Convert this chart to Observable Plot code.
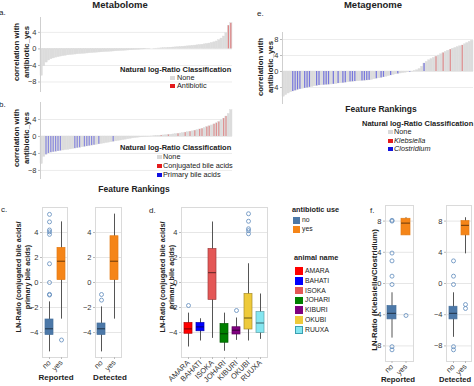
<!DOCTYPE html>
<html><head><meta charset="utf-8">
<script src="https://cdn.jsdelivr.net/npm/d3@7"></script>
<script src="https://cdn.jsdelivr.net/npm/@observablehq/plot@0.6"></script>
<style>
html,body{margin:0;padding:0;background:#fff;}
#fig{position:relative;width:474px;height:386px;overflow:hidden;font-family:"Liberation Sans",Arial,sans-serif;color:#222;}
#fig svg{position:absolute;overflow:visible;}
.t{position:absolute;white-space:pre;line-height:1;}
</style></head><body><div id="fig"></div>
<script>
// ---------- data: panel a (Metabolome, antibiotic) ----------
const barsA = [-6.5,-4.2,-3.3,-2.8,-2.5,-2.3,-2.1,-2.0,-1.85,-1.75,-1.65,-1.55,-1.48,-1.42,-1.36,-1.3,-1.25,
 -1.2,-1.15,-1.1,-1.05,-1.0,-0.95,-0.9,-0.86,-0.82,-0.78,-0.74,-0.7,-0.66,-0.62,-0.58,-0.54,-0.5,-0.46,
 -0.42,-0.38,-0.34,-0.3,-0.26,-0.22,-0.18,-0.14,-0.1,-0.06,-0.03,0,0.03,0.06,0.1,0.14,
 0.18,0.22,0.26,0.3,0.34,0.38,0.42,0.47,0.52,0.57,0.62,0.68,0.74,0.8,0.87,0.94,1.02,1.1,1.2,1.3,
 1.45,1.6,1.8,2.1,2.5,3.0,3.8,5.6,6.2];
const redA = [78,79];
// ---------- panel b (Metabolome, bile acids) ----------
const barsB = [-6.5,-4.8,-4.3,-4.0,-3.8,-3.7,-3.6,-3.5,-3.4,-3.3,-3.2,-3.15,-3.05,-2.95,-2.85,-2.75,-2.65,-2.55,-2.45,-2.35,
 -2.25,-2.15,-2.05,-1.95,-1.85,-1.75,-1.65,-1.55,-1.45,-1.35,-1.25,-1.15,-1.05,-0.95,-0.85,-0.75,-0.65,-0.55,-0.45,-0.38,
 -0.3,-0.24,-0.18,-0.12,-0.07,-0.03,0.02,0.06,0.1,0.15,0.2,0.25,0.3,0.36,0.42,0.48,0.55,0.62,0.7,0.8,
 0.9,1.0,1.1,1.2,1.35,1.5,1.65,1.8,2.0,2.2,2.4,2.6,2.85,3.1,3.4,3.8,4.2,4.7,5.3,6.2];
const blueB = [2,3,4,5,6,7,8,14,15,16,18,19,20,21,22,24,30];
const redB = [50,53,57,60,62,64,66,67,69,70,72,73,74,76,77];
// ---------- panel e (Metagenome) ----------
const barsE = [-6.3,-5.9,-5.5,-5.2,-5.0,-4.8,-4.6,-4.45,-4.3,-4.2,-4.1,-3.95,-3.85,-3.7,-3.6,-3.5,-3.45,-3.4,-3.35,-3.3,
 -3.25,-3.2,-3.1,-3.0,-2.95,-2.9,-2.8,-2.7,-2.6,-2.55,-2.5,-2.45,-2.4,-2.35,-2.3,-2.25,-2.2,-2.1,-1.95,-1.8,
 -1.7,-1.6,-1.45,-1.3,-1.15,-1.0,-0.85,-0.7,-0.6,-0.5,-0.4,-0.3,-0.2,-0.15,-0.05,0.1,0.3,0.6,1.2,2.0,
 2.4,2.8,3.1,3.4,3.7,4.0,4.3,4.6,4.9,5.2,5.45,5.7,5.9,6.1,6.3,6.5,6.8,7.1,7.4,7.7];
const blueE = [4,5,6,7,9,10,11,14,15,17,18,19,21,23,25,26,28,29,30,33,34,35,36,39,41,42,45,48,53,59];
const redE = [64,67,70,75];
// ---------- panel c ----------
const abxGroups = ["no","yes"];
const abxColors = ["#4c78a8","#f58518"];
// five-number summaries: [lower whisker, q1, median, q3, upper whisker]
const cReportedBox = [[-5.55,-4.2,-3.7,-2.96,-1.55],[-2.93,0.19,1.7,2.77,4.85]];
const cReportedOut = [[5.45,4.85,4.2,4.05,3.85,1.5,0,-0.95,-1.0],[-4.6]];
const cDetectedBox = [[-5.55,-4.2,-3.7,-3.28,-1.95],[-2.93,0.19,1.7,3.7,5.47]];
const cDetectedOut = [[-0.96,-1.41],[]];
// ---------- panel d ----------
const animals = ["AMARA","BAHATI","ISOKA","JOHARI","KIBURI","OKUBI","RUUXA"];
const animalColors = ["#ff0000","#0000ff","#e45756","#008000","#800080","#eeca3b","#84e6f0"];
const dBox = [[-5.16,-4.1,-3.71,-3.24,-2.45],[-4.68,-3.9,-3.55,-3.24,-2.9],[-4.47,-1.39,0.79,2.68,4.84],
 [-5.5,-4.82,-4.1,-3.32,-2.45],[-4.63,-4.16,-3.82,-3.58,-2.84],[-4.68,-3.76,-2.84,-0.92,1.5],[-4.55,-4.03,-3.24,-2.37,-0.92]];
const dOut = [[-1.84],[],[],[],[-2.24],[5.5,4.9,4.3,4.15,3.9],[]];
// ---------- panel f ----------
const fReportedBox = [[-7.0,-4.6,-3.83,-2.89,-1.19],[6.17,6.17,7.74,8.3,8.43]];
const fReportedOut = [[8.0,8.1,3.9,2.9,0.94,-0.13,-8.1,-8.5],[-4.1]];
const fDetectedBox = [[-6.9,-4.6,-3.83,-2.98,-1.19],[3.8,6.17,7.45,8.0,8.43]];
const fDetectedOut = [[2.9,0.94,-0.13,-8.1,-8.5],[-2.7,-3.2]];
const classColors = {None:"#d9d9d9", Antibiotic:"#e31a1c", Conj:"#e31a1c", Prim:"#1010e0"};

const fig = document.getElementById("fig");
const FONT = '"Liberation Sans", Arial, sans-serif';

function place(svg, x, y){ svg.style.left = x+"px"; svg.style.top = y+"px"; fig.appendChild(svg); }
function txt(s, x, y, o={}){
  const d = document.createElement("div");
  d.className = "t";
  d.textContent = s;
  d.style.left = x+"px"; d.style.top = y+"px";
  d.style.fontSize = (o.size||7)+"px";
  if (o.bold) d.style.fontWeight = "bold";
  if (o.italic) d.style.fontStyle = "italic";
  if (o.lh) d.style.lineHeight = o.lh+"px";
  d.style.textAlign = "center";
  let tr = o.anchor==="middle" ? "translate(-50%,-50%)" : "translate(0,-50%)";
  if (o.rot) tr = "translate(-50%,-50%) rotate(-90deg)";
  d.style.transform = tr;
  d.style.color = o.color || "#222";
  fig.appendChild(d);
}
function sq(x, y, s, color, border){
  const d = document.createElement("div");
  d.style.position="absolute"; d.style.left=x+"px"; d.style.top=(y-s/2)+"px";
  d.style.width=s+"px"; d.style.height=s+"px"; d.style.background=color; d.style.boxSizing="border-box";
  if (border) d.style.border="1px solid "+border;
  fig.appendChild(d);
}

function barPanel(vals, colored, o){
  const rows = vals.map((v,i)=>({i,v}));
  const cm = colored.map(([ids,color,op]) => Plot.barY(rows.filter(r=>ids.includes(r.i)),
    {x:"i", y:"v", fill:color, fillOpacity:op, insetLeft:0.6, insetRight:0.6}));
  return Plot.plot({
    width:o.w, height:o.h, marginLeft:o.ml, marginRight:o.mr, marginTop:o.mt, marginBottom:o.mb,
    x:{type:"band", domain:d3.range(vals.length), padding:0, axis:null},
    y:{domain:o.ydom},
    style:{fontFamily:FONT, fontSize:"7.5px", background:"transparent", color:"#333"},
    marks:[
      Plot.gridY(o.ticks, {stroke:"#ececec", strokeOpacity:1}),
      Plot.barY(rows, {x:"i", y:"v", fill:"#dcdcdc", stroke:"#dcdcdc", strokeWidth:0.4}),
      ...cm,
      Plot.frame({anchor:"left", stroke:"#cfcfcf"}),
      Plot.axisY(o.ticks, {tickSize:2, tickPadding:2, stroke:"#bbb", label:null, fill:"#333"})
    ]
  });
}

function boxPanel(groups, box, outs, colors, o){
  const rows = groups.map((g,k)=>({g, lo:box[k][0], q1:box[k][1], med:box[k][2], q3:box[k][3], hi:box[k][4],
    c:colors[k], s:d3.color(colors[k]).darker(o.sd).formatHex(), m:d3.color(colors[k]).darker(1.8).formatHex()}));
  const pts = groups.flatMap((g,k)=>outs[k].map(v=>({g,v})));
  return Plot.plot({
    width:o.w, height:o.h, marginLeft:o.ml, marginRight:o.mr, marginTop:o.mt, marginBottom:o.mb,
    x:{domain:groups, paddingInner:0.35, paddingOuter:0.175},
    y:{domain:o.ydom},
    color:{type:"identity"},
    style:{fontFamily:FONT, fontSize:"7.5px", background:"transparent", color:"#333"},
    marks:[
      Plot.gridY(o.ticks, {stroke:"#e6e6e6", strokeOpacity:1}),
      Plot.frame({stroke:"#dadada"}),
      Plot.ruleX(rows, {x:"g", y1:"lo", y2:"hi", stroke:"#555", strokeWidth:1}),
      Plot.barY(rows, {x:"g", y1:"q1", y2:"q3", fill:"c", stroke:"s", strokeWidth:0.7}),
      Plot.tickY(rows, {x:"g", y:"med", stroke:"m", strokeWidth:1.2}),
      Plot.dot(pts, {x:"g", y:"v", r:2, stroke:"#5f8bbd", strokeWidth:0.8, fill:"none"}),
      Plot.axisY(o.ticks, {tickSize:2, tickPadding:2, stroke:"#bbb", label:null, fill:"#333"}),
      Plot.axisX({tickRotate:-45, tickSize:2, tickPadding:2, stroke:"#bbb", label:null, fill:"#333"})
    ]
  });
}

// ---- panel a ----
place(barPanel(barsA, [[redA, classColors.Antibiotic, 0.45]],
  {w:240, h:100, ml:40, mr:8, mt:17, mb:9, ydom:[-10.3,7.6], ticks:[-8,-4,0,4]}), 0, 0);
// ---- panel b ----
place(barPanel(barsB, [[blueB, classColors.Prim, 0.4],[redB, classColors.Conj, 0.38]],
  {w:240, h:100, ml:40, mr:8, mt:12, mb:12, ydom:[-9.9,8], ticks:[-8,-4,0,4]}), 0, 90);
// ---- panel e ----
place(barPanel(barsE, [[blueE, classColors.Prim, 0.5],[redE, classColors.Conj, 0.4]],
  {w:234, h:110, ml:42, mr:1, mt:32, mb:7, ydom:[-8,9.75], ticks:[-4,0,4,8]}), 240, 0);

// ---- panel c ----
place(boxPanel(abxGroups, cReportedBox, cReportedOut, abxColors,
  {w:70, h:191, ml:42, mr:3, mt:12, mb:29, ydom:[-6,6], ticks:[-4,-2,0,2,4], sd:0.2}), 0, 195);
place(boxPanel(abxGroups, cDetectedBox, cDetectedOut, abxColors,
  {w:68, h:191, ml:40, mr:2, mt:12, mb:29, ydom:[-6,6], ticks:[-4,-2,0,2,4], sd:0.2}), 55, 195);
// ---- panel d ----
place(boxPanel(animals, dBox, dOut, animalColors,
  {w:130, h:191, ml:41, mr:3, mt:12, mb:29, ydom:[-6,6], ticks:[-4,-2,0,2,4], sd:1.0}), 140, 195);
// ---- panel f ----
place(boxPanel(abxGroups, fReportedBox, fReportedOut, abxColors,
  {w:60, h:191, ml:30, mr:2, mt:10, mb:25, ydom:[-10,10], ticks:[-8,-4,0,4,8], sd:0.2}), 355, 195);
place(boxPanel(abxGroups, fDetectedBox, fDetectedOut, abxColors,
  {w:57, h:191, ml:30, mr:2, mt:10, mb:25, ydom:[-10,10], ticks:[-8,-4,0,4,8], sd:0.2}), 416, 195);

// ---- titles & labels ----
txt("Metabolome", 120, 5, {size:9.5, bold:true, anchor:"middle"});
txt("Metagenome", 373, 5, {size:9.5, bold:true, anchor:"middle"});
txt("a.", -1, 13, {size:8});
txt("b.", -1, 105, {size:8});
txt("e.", 257, 14, {size:8});
txt("c.", 1, 210, {size:8});
txt("d.", 149, 211, {size:8});
txt("f.", 370, 211, {size:8});
txt("correlation with\nantibiotic_yes", 21, 52, {size:7.8, bold:true, rot:true, lh:9.5});
txt("correlation with\nantibiotic_yes", 21, 138, {size:7.8, bold:true, rot:true, lh:9.5});
txt("correlation with\nantibiotic_yes", 265, 67, {size:7.8, bold:true, rot:true, lh:9.5});
txt("Feature Rankings", 134, 189, {size:8.5, bold:true, anchor:"middle"});
txt("Feature Rankings", 381, 109, {size:8.5, bold:true, anchor:"middle"});
txt("LN-Ratio (conjugated bile acids/\nprimary bile acids)", 23, 277, {size:7.3, bold:true, rot:true, lh:8.5});
txt("LN-Ratio (conjugated bile acids/\nprimary bile acids)", 167, 277, {size:7.3, bold:true, rot:true, lh:8.5});
txt("LN-Ratio (Klebsiella/Clostridium)", 375, 290, {size:7.8, bold:true, rot:true});
txt("Reported", 56, 378, {size:8, bold:true, anchor:"middle"});
txt("Detected", 110, 378, {size:8, bold:true, anchor:"middle"});
txt("Reported", 398, 380, {size:7.8, bold:true, anchor:"middle"});
txt("Detected", 455, 380, {size:7.6, bold:true, anchor:"middle"});

// ---- legend a ----
txt("Natural log-Ratio Classification", 120, 70, {size:7.5, bold:true});
sq(170, 78, 4.5, classColors.None); txt("None", 177, 78, {size:7.3});
sq(170, 86, 4.5, classColors.Antibiotic); txt("Antibiotic", 177, 86, {size:7.3});
// ---- legend b ----
txt("Natural log-Ratio Classification", 120, 148, {size:7.5, bold:true});
sq(157, 157, 4.5, classColors.None); txt("None", 163, 157, {size:7.3});
sq(157, 166, 4.5, classColors.Conj); txt("Conjugated bile acids", 163, 166, {size:7.3});
sq(157, 175, 4.5, classColors.Prim); txt("Primary bile acids", 163, 175, {size:7.3});
// ---- legend e ----
txt("Natural log-Ratio Classification", 362, 124, {size:7.5, bold:true});
sq(388, 132, 4.5, classColors.None); txt("None", 394, 132, {size:7.3});
sq(388, 141, 4.5, classColors.Conj); txt("Klebsiella", 394, 141, {size:7.3, italic:true});
sq(388, 149, 4.5, classColors.Prim); txt("Clostridium", 394, 149, {size:7.3, italic:true});
// ---- legend middle ----
txt("antibiotic use", 292, 210, {size:7.3, bold:true});
abxGroups.forEach((g,k)=>{ sq(293, 220+9*k, 7, abxColors[k]); txt(g, 302, 220+9*k, {size:6.8}); });
txt("animal name", 294, 258, {size:7.3, bold:true});
animals.forEach((a,k)=>{ sq(295, 271+9.8*k, 7.5, animalColors[k], k===6 ? "#3a9fb0" : null); txt(a, 305, 271+9.8*k, {size:6.8}); });
</script></body></html>
